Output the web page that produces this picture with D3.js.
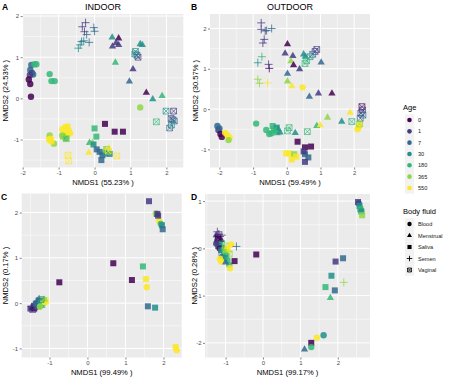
<!DOCTYPE html>
<html><head><meta charset="utf-8">
<script src="https://cdn.jsdelivr.net/npm/d3@7"></script>
<style>body{margin:0;background:#fff;} svg{display:block;font-family:"Liberation Sans",Arial,sans-serif;}</style>
</head><body><svg id="c" width="474" height="379"></svg>
<script>
const ageLevels = [0, 1, 7, 30, 180, 365, 550];
const ageColors = ["#440154", "#443A83", "#31688E", "#21908C", "#35B779", "#8FD744", "#FDE725"];
const fluidLevels = ["Blood", "Menstrual", "Saliva", "Semen", "Vaginal"];

// [NMDS1, NMDS2, age, fluid]
const indoorPts = [
 [-0.25,1.84,1,"Semen"],[-0.34,1.74,1,"Semen"],[-0.28,1.62,1,"Semen"],[-0.02,1.72,7,"Semen"],[0.0,1.63,7,"Semen"],
 [-0.22,1.55,7,"Semen"],[-0.15,1.36,7,"Semen"],[-0.3,1.4,30,"Semen"],[-0.4,1.3,30,"Semen"],[-0.45,1.22,30,"Semen"],[-0.36,1.38,7,"Semen"],
 [0.49,1.48,30,"Menstrual"],[0.67,1.46,0,"Menstrual"],[0.6,1.35,1,"Menstrual"],[0.5,1.26,1,"Menstrual"],[0.67,1.3,1,"Menstrual"],
 [0.58,0.87,180,"Menstrual"],[1.27,1.32,30,"Menstrual"],[1.33,1.3,30,"Menstrual"],[1.07,0.71,1,"Menstrual"],[0.97,0.41,7,"Menstrual"],
 [1.44,0.14,0,"Menstrual"],[1.62,-0.02,30,"Menstrual"],[1.88,0.06,180,"Menstrual"],[-0.14,-1.08,180,"Menstrual"],[-0.06,-1.08,365,"Menstrual"],
 [-0.16,-1.32,550,"Menstrual"],[0.4,-1.22,550,"Menstrual"],[0.3,-1.25,365,"Menstrual"],
 [-1.76,0.81,7,"Blood"],[-1.67,0.83,180,"Blood"],[-1.62,0.83,180,"Blood"],[-1.79,0.69,7,"Blood"],[-1.74,0.62,1,"Blood"],[-1.71,0.58,7,"Blood"],
 [-1.8,0.57,1,"Blood"],[-1.83,0.46,0,"Blood"],[-1.79,0.35,0,"Blood"],[-1.77,0.04,0,"Blood"],[-1.25,0.59,180,"Blood"],[-1.2,0.42,180,"Blood"],
 [-1.11,0.42,180,"Blood"],[1.27,-0.22,365,"Blood"],
 [-1.25,-0.9,365,"Blood"],[-1.22,-0.98,550,"Blood"],[-1.27,-1.0,550,"Blood"],[-1.13,-1.1,365,"Blood"],[-1.2,-1.05,550,"Blood"],
 [-0.9,-0.75,550,"Blood"],[-0.82,-0.7,550,"Blood"],[-0.75,-0.68,550,"Blood"],[-0.72,-0.78,550,"Blood"],[-0.68,-0.85,550,"Blood"],
 [-0.85,-0.85,550,"Blood"],[-0.78,-0.9,550,"Blood"],[-0.9,-0.9,365,"Blood"],
 [0.29,-0.62,0,"Saliva"],[0.56,-0.81,0,"Saliva"],[0.79,-0.81,0,"Saliva"],[0.0,-0.73,180,"Saliva"],[0.05,-0.93,180,"Saliva"],
 [-0.03,-1.12,30,"Saliva"],[0.06,-1.24,7,"Saliva"],[0.14,-1.3,7,"Saliva"],[0.22,-1.38,7,"Saliva"],[0.19,-1.5,7,"Saliva"],
 [0.31,-1.34,30,"Saliva"],[0.42,-1.35,30,"Saliva"],[-0.88,-0.93,365,"Saliva"],[-0.8,-0.98,180,"Saliva"],
 [1.14,1.14,30,"Vaginal"],[1.18,1.05,7,"Vaginal"],[1.21,1.0,1,"Vaginal"],[1.12,1.08,30,"Vaginal"],[2.2,-0.31,1,"Vaginal"],
 [1.99,-0.31,30,"Vaginal"],[2.13,-0.49,1,"Vaginal"],[2.18,-0.52,7,"Vaginal"],[2.22,-0.55,7,"Vaginal"],[2.14,-0.65,30,"Vaginal"],
 [2.09,-0.72,7,"Vaginal"],[1.72,-0.57,180,"Vaginal"],[-0.74,-1.38,550,"Vaginal"],[-0.72,-1.52,550,"Vaginal"],[-0.78,-0.98,365,"Vaginal"],
 [0.33,-1.24,365,"Vaginal"],[0.38,-1.28,550,"Vaginal"],[0.62,-1.4,550,"Vaginal"]
];

const outdoorPts = [
 [-0.76,2.14,1,"Semen"],[-0.76,1.98,1,"Semen"],[-0.64,1.94,1,"Semen"],[-0.45,2.0,7,"Semen"],[-0.6,1.95,7,"Semen"],
 [-0.67,1.73,1,"Semen"],[-0.71,1.64,1,"Semen"],[-0.74,1.3,180,"Semen"],[-0.86,1.15,30,"Semen"],[-0.54,1.11,1,"Semen"],
 [-0.52,1.01,0,"Semen"],[-0.86,0.74,365,"Semen"],[-0.81,0.64,365,"Semen"],[-0.57,0.65,550,"Semen"],
 [0.02,1.61,0,"Menstrual"],[-0.05,1.38,1,"Menstrual"],[0.18,1.32,1,"Menstrual"],[0.5,1.36,30,"Menstrual"],[0.55,1.3,30,"Menstrual"],
 [0.12,1.19,365,"Menstrual"],[0.2,1.09,0,"Menstrual"],[0.38,0.99,1,"Menstrual"],[1.02,1.16,7,"Menstrual"],[0.02,0.88,7,"Menstrual"],
 [0.02,0.69,365,"Menstrual"],[0.15,0.57,550,"Menstrual"],[0.67,0.31,7,"Menstrual"],[0.94,0.39,1,"Menstrual"],[1.34,0.39,0,"Menstrual"],
 [1.88,-0.09,550,"Menstrual"],[1.63,-0.31,30,"Menstrual"],[1.21,-0.21,365,"Menstrual"],[0.89,-0.42,180,"Menstrual"],[0.99,-0.4,550,"Menstrual"],
 [0.25,-0.59,30,"Menstrual"],[-0.25,-0.5,180,"Menstrual"],[-0.35,-0.55,180,"Menstrual"],[-0.28,-0.6,180,"Menstrual"],[-0.2,-0.58,30,"Menstrual"],
 [-2.06,-0.42,7,"Blood"],[-2.03,-0.52,1,"Blood"],[-2.0,-0.48,7,"Blood"],[-1.93,-0.69,0,"Blood"],[-1.97,-0.62,0,"Blood"],
 [-1.83,-0.59,550,"Blood"],[-1.76,-0.65,550,"Blood"],[-1.7,-0.71,550,"Blood"],[-1.73,-0.77,365,"Blood"],[-0.91,-0.36,180,"Blood"],
 [-0.61,-0.52,180,"Blood"],[-0.45,-0.6,180,"Blood"],[-0.52,-0.62,180,"Blood"],[0.47,0.54,550,"Blood"],[2.13,-0.45,550,"Blood"],
 [2.17,-0.38,550,"Blood"],[2.1,-0.5,550,"Blood"],
 [-0.42,-0.42,180,"Saliva"],[-0.3,-0.46,30,"Saliva"],[-0.38,-0.52,180,"Saliva"],[0.32,-0.81,0,"Saliva"],[0.54,-0.95,0,"Saliva"],
 [0.72,-0.93,0,"Saliva"],[-0.02,-1.1,550,"Saliva"],[0.08,-1.1,550,"Saliva"],[0.22,-1.12,365,"Saliva"],[0.28,-1.18,550,"Saliva"],
 [0.15,-1.25,550,"Saliva"],[0.54,-1.12,7,"Saliva"],[0.64,-1.2,7,"Saliva"],[0.54,-1.31,1,"Saliva"],[0.5,-1.05,1,"Saliva"],
 [0.89,1.48,1,"Vaginal"],[0.84,1.43,1,"Vaginal"],[0.77,1.36,7,"Vaginal"],[0.69,1.3,30,"Vaginal"],[0.59,1.2,180,"Vaginal"],
 [0.54,1.13,180,"Vaginal"],[0.07,-0.46,180,"Vaginal"],[0.02,-0.54,180,"Vaginal"],[0.61,-0.56,180,"Vaginal"],[2.23,0.06,0,"Vaginal"],
 [2.25,-0.02,1,"Vaginal"],[2.2,-0.1,1,"Vaginal"],[2.26,-0.15,7,"Vaginal"],[2.18,-0.23,7,"Vaginal"],[1.93,-0.31,180,"Vaginal"],[2.16,-0.37,365,"Vaginal"]
];

const panelCPts = [
 [-1.5,-0.12,1,"Saliva"],[-1.45,-0.1,0,"Menstrual"],[-1.42,-0.06,1,"Blood"],[-1.47,-0.08,1,"Semen"],[-1.4,-0.12,0,"Saliva"],
 [-1.38,-0.04,1,"Menstrual"],[-1.35,-0.08,1,"Blood"],[-1.33,-0.02,7,"Saliva"],[-1.44,-0.14,1,"Vaginal"],[-1.3,0.0,7,"Menstrual"],
 [-1.28,0.06,7,"Saliva"],[-1.32,0.04,1,"Semen"],[-1.26,0.0,30,"Blood"],[-1.3,-0.06,7,"Vaginal"],[-1.36,0.0,7,"Blood"],
 [-1.24,-0.03,30,"Menstrual"],[-1.22,0.02,180,"Blood"],[-1.2,0.05,180,"Vaginal"],[-1.18,0.0,180,"Saliva"],[-1.16,0.04,365,"Blood"],
 [-1.14,0.06,365,"Vaginal"],[-1.2,-0.06,180,"Menstrual"],[-1.25,-0.08,365,"Blood"],[-1.12,0.02,550,"Blood"],[-1.1,0.05,550,"Vaginal"],
 [-1.13,0.08,365,"Menstrual"],[-1.22,0.08,30,"Vaginal"],[-1.27,0.09,7,"Semen"],
 [1.8,1.98,365,"Blood"],[1.83,1.95,180,"Menstrual"],[1.88,1.85,550,"Menstrual"],[1.9,1.8,550,"Blood"],[1.93,1.75,180,"Blood"],
 [1.62,2.25,1,"Saliva"],[1.84,1.97,1,"Saliva"],[1.86,1.93,1,"Saliva"],[1.96,1.72,30,"Saliva"],[1.98,1.63,7,"Saliva"],
 [0.68,0.88,0,"Saliva"],[-0.74,0.46,0,"Saliva"],[1.17,0.51,0,"Saliva"],[1.46,0.81,180,"Saliva"],[1.54,0.53,550,"Saliva"],
 [1.59,-0.07,7,"Saliva"],[1.78,-0.1,30,"Saliva"],[2.32,-0.97,550,"Saliva"],[1.56,0.35,550,"Blood"],[2.35,-1.04,550,"Blood"]
];

const panelDPts = [
 [-1.22,0.35,1,"Semen"],[-1.18,0.3,0,"Semen"],[-1.25,0.28,1,"Menstrual"],[-1.15,0.25,1,"Semen"],[-1.2,0.2,0,"Saliva"],
 [-1.22,0.15,1,"Blood"],[-1.18,0.12,7,"Vaginal"],[-1.12,0.18,0,"Menstrual"],[-1.15,0.08,30,"Blood"],[-1.2,0.05,7,"Saliva"],
 [-1.1,0.1,180,"Vaginal"],[-1.08,0.02,30,"Menstrual"],[-1.16,0.0,0,"Blood"],[-1.12,-0.04,7,"Saliva"],[-1.05,-0.02,180,"Blood"],
 [-1.0,0.05,365,"Vaginal"],[-0.95,0.0,550,"Blood"],[-1.1,-0.1,30,"Vaginal"],[-1.05,-0.12,180,"Menstrual"],[-1.0,-0.08,365,"Saliva"],
 [-0.92,-0.05,550,"Menstrual"],[-1.08,-0.18,7,"Blood"],[-0.98,-0.15,180,"Blood"],[-0.9,-0.12,365,"Vaginal"],[-1.02,-0.2,30,"Saliva"],
 [-1.15,-0.22,550,"Blood"],[-1.12,-0.28,550,"Blood"],[-0.95,-0.25,180,"Blood"],[-0.9,-0.35,180,"Blood"],[-0.88,-0.42,550,"Blood"],
 [-1.2,0.22,0,"Vaginal"],[-1.1,0.28,1,"Semen"],[-0.85,0.08,550,"Blood"],[-1.25,0.1,1,"Blood"],[-1.0,-0.3,7,"Menstrual"],
 [2.56,0.95,7,"Blood"],[2.6,0.88,180,"Menstrual"],[2.62,0.8,365,"Blood"],
 [2.54,0.98,1,"Saliva"],[2.58,0.9,30,"Saliva"],[2.6,0.83,180,"Saliva"],[2.63,0.78,30,"Saliva"],[2.65,0.7,365,"Saliva"],
 [-0.18,-0.13,0,"Saliva"],[-0.76,-0.27,0,"Saliva"],[1.94,-0.28,1,"Saliva"],[2.14,-0.21,7,"Saliva"],[1.83,-0.58,30,"Saliva"],
 [1.67,-0.82,180,"Saliva"],[1.92,-0.89,7,"Saliva"],[1.29,-2.0,0,"Saliva"],
 [2.16,-0.72,365,"Semen"],[-0.71,0.04,7,"Semen"],[1.8,-1.05,180,"Menstrual"],[1.11,-2.14,7,"Menstrual"],
 [1.62,-1.84,30,"Blood"],[1.44,-1.89,550,"Blood"],[1.29,-2.09,180,"Blood"]
];

const panels = [
 {tag:"A", title:"INDOOR", xlab:"NMDS1 (55.23% )", ylab:"NMDS2 (24.53% )", pts:indoorPts,
  box:[22.7,14,183.3,167.5], xdom:[-2.0,2.47], ydom:[-1.68,2.05], xt:[-2,-1,0,1,2], yt:[-1,0,1,2], ylx:5.5, tagPos:[2,10]},
 {tag:"B", title:"OUTDOOR", xlab:"NMDS1 (59.49% )", ylab:"NMDS2 (30.57% )", pts:outdoorPts,
  box:[210,14,370,167.5], xdom:[-2.28,2.47], ydom:[-1.45,2.36], xt:[-2,-1,0,1,2], yt:[-1,0,1,2], ylx:195.5, tagPos:[191,10]},
 {tag:"C", title:"", xlab:"NMDS1 (99.49% )", ylab:"NMDS2 (0.17% )", pts:panelCPts,
  box:[21.7,193.5,181.7,357.5], xdom:[-1.73,2.48], ydom:[-1.2,2.42], xt:[-1,0,1,2], yt:[-1,0,1,2], ylx:5.5, tagPos:[1,199.5]},
 {tag:"D", title:"", xlab:"NMDS1 (99.17% )", ylab:"NMDS2 (0.28% )", pts:panelDPts,
  box:[205,194,370,357.5], xdom:[-1.55,2.86], ydom:[-2.31,1.15], xt:[-1,0,1,2], yt:[-2,-1,0,1], ylx:194.5, tagPos:[191,200]}
];

const svg = d3.select("#c");
const color = d3.scaleOrdinal().domain(ageLevels).range(ageColors);

function drawShape(g, fluid, cx, cy, col, s, op) {
  const k = s;
  if (fluid === "Blood") {
    g.append("circle").attr("cx", cx).attr("cy", cy).attr("r", 3.2*k).attr("fill", col).attr("fill-opacity", op);
  } else if (fluid === "Menstrual") {
    const r = 4.2*k;
    const p = `M${cx},${cy - r} L${cx + r*0.866},${cy + r*0.5} L${cx - r*0.866},${cy + r*0.5}Z`;
    g.append("path").attr("d", p).attr("fill", col).attr("fill-opacity", op);
  } else if (fluid === "Saliva") {
    const h = 3.0*k;
    g.append("rect").attr("x", cx - h).attr("y", cy - h).attr("width", 2*h).attr("height", 2*h).attr("fill", col).attr("fill-opacity", op);
  } else if (fluid === "Semen") {
    const h = 4.0*k;
    g.append("path").attr("d", `M${cx - h},${cy}H${cx + h}M${cx},${cy - h}V${cy + h}`)
      .attr("stroke", col).attr("stroke-width", 0.9).attr("stroke-opacity", op).attr("fill", "none");
  } else {
    const h = 2.9*k;
    g.append("path").attr("d", `M${cx - h},${cy - h}H${cx + h}V${cy + h}H${cx - h}ZM${cx - h},${cy - h}L${cx + h},${cy + h}M${cx + h},${cy - h}L${cx - h},${cy + h}`)
      .attr("stroke", col).attr("stroke-width", 0.8).attr("stroke-opacity", op).attr("fill", "none");
  }
}

panels.forEach(p => {
  const [x0, y0, x1, y1] = p.box;
  const x = d3.scaleLinear().domain(p.xdom).range([x0, x1]);
  const y = d3.scaleLinear().domain(p.ydom).range([y1, y0]);
  const g = svg.append("g");
  g.append("rect").attr("x", x0).attr("y", y0).attr("width", x1 - x0).attr("height", y1 - y0).attr("fill", "#EBEBEB");
  const minors = (dom) => {
    const out = [];
    for (let v = Math.floor(dom[0]) - 0.5; v <= dom[1]; v += 1) if (v > dom[0] && v < dom[1]) out.push(v);
    return out;
  };
  minors(p.xdom).forEach(v => g.append("line").attr("x1", x(v)).attr("x2", x(v)).attr("y1", y0).attr("y2", y1).attr("stroke", "#fff").attr("stroke-width", 0.5));
  minors(p.ydom).forEach(v => g.append("line").attr("y1", y(v)).attr("y2", y(v)).attr("x1", x0).attr("x2", x1).attr("stroke", "#fff").attr("stroke-width", 0.5));
  p.xt.forEach(v => g.append("line").attr("x1", x(v)).attr("x2", x(v)).attr("y1", y0).attr("y2", y1).attr("stroke", "#fff").attr("stroke-width", 1));
  p.yt.forEach(v => g.append("line").attr("y1", y(v)).attr("y2", y(v)).attr("x1", x0).attr("x2", x1).attr("stroke", "#fff").attr("stroke-width", 1));
  const xa = g.append("g").attr("transform", `translate(0,${y1})`)
    .call(d3.axisBottom(x).tickValues(p.xt).tickSize(2).tickPadding(1.5).tickFormat(d3.format("d")));
  const ya = g.append("g").attr("transform", `translate(${x0},0)`)
    .call(d3.axisLeft(y).tickValues(p.yt).tickSize(2).tickPadding(1.5).tickFormat(d3.format("d")));
  [xa, ya].forEach(a => {
    a.select(".domain").remove();
    a.selectAll("line").attr("stroke", "#333").attr("stroke-width", 0.6);
    a.selectAll("text").attr("fill", "#4D4D4D").style("font-size", "6px").style("font-family", "Liberation Sans, Arial, sans-serif")
      .text(d => d < 0 ? "-" + Math.abs(d) : d);
  });
  const pg = g.append("g");
  p.pts.forEach(d => drawShape(pg, d[3], x(d[0]), y(d[1]), color(d[2]), 1, 0.85));
  g.append("text").attr("x", (x0 + x1)/2).attr("y", y1 + 17.5).attr("text-anchor", "middle").style("font-size", "7.6px").text(p.xlab);
  g.append("text").attr("transform", `translate(${p.ylx + 2.7},${(y0 + y1)/2}) rotate(-90)`).attr("text-anchor", "middle").style("font-size", "7.6px").text(p.ylab);
  if (p.title) g.append("text").attr("x", (x0 + x1)/2).attr("y", 9.5).attr("text-anchor", "middle").style("font-size", "9px").text(p.title);
  g.append("text").attr("x", p.tagPos[0]).attr("y", p.tagPos[1]).style("font-size", "8.5px").style("font-weight", "bold").text(p.tag);
});

const lg = svg.append("g");
lg.append("text").attr("x", 403).attr("y", 110).style("font-size", "7.5px").text("Age");
ageLevels.forEach((a, i) => {
  const cy = 120 + i*11.33;
  lg.append("rect").attr("x", 405).attr("y", cy - 5.66).attr("width", 9).attr("height", 11.33).attr("fill", "#F2F2F2");
  lg.append("circle").attr("cx", 409.5).attr("cy", cy).attr("r", 2.3).attr("fill", color(a));
  lg.append("text").attr("x", 418).attr("y", cy + 2).style("font-size", "5.6px").attr("fill", "#1a1a1a").text(a);
});
lg.append("text").attr("x", 403).attr("y", 214).style("font-size", "7.5px").text("Body fluid");
fluidLevels.forEach((f, i) => {
  const cy = 224 + i*11.5;
  lg.append("rect").attr("x", 405).attr("y", cy - 5.75).attr("width", 9).attr("height", 11.5).attr("fill", "#F2F2F2");
  drawShape(lg, f, 409.5, cy, "#000", 0.68, 1);
  lg.append("text").attr("x", 418).attr("y", cy + 2).style("font-size", "5.6px").attr("fill", "#1a1a1a").text(f);
});
</script>
</body></html>
